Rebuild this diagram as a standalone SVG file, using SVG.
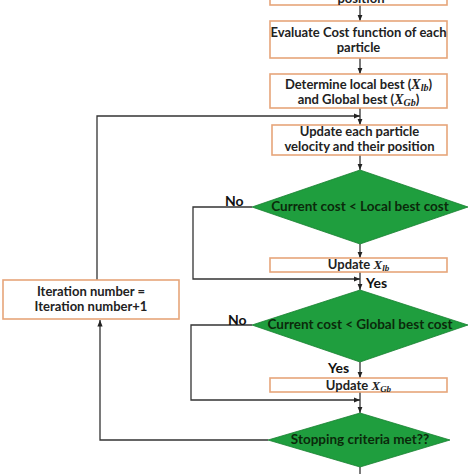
<svg xmlns="http://www.w3.org/2000/svg" width="474" height="474" viewBox="0 0 474 474">
<defs>
<marker id="ah" viewBox="0 0 10 10" refX="10" refY="5" markerWidth="5" markerHeight="5" orient="auto"><path d="M0,1 L10,5 L0,9 z" fill="#222"/></marker>
<style>
.box{fill:#fff;stroke:#e6a57a;stroke-width:1.6}
.dia{fill:#1f9e3e;stroke:#178030;stroke-width:0.8}
.t{font-family:Lato,"Open Sans",sans-serif;font-weight:bold;font-size:13px;fill:#222;text-anchor:middle}
.dt{font-family:Lato,"Open Sans",sans-serif;font-weight:bold;font-size:13.5px;fill:#0b2a0b;text-anchor:middle}
.lbl{font-family:Lato,"Open Sans",sans-serif;font-weight:bold;font-size:14px;fill:#111}
.m{font-family:"Liberation Serif",serif;font-style:italic;font-weight:bold}
.c{fill:none;stroke:#333;stroke-width:1.3}
</style>
</defs>
<g id="connectors">
<line class="c" x1="360" y1="5" x2="360" y2="21" marker-end="url(#ah)"/>
<line class="c" x1="360" y1="58" x2="360" y2="74" marker-end="url(#ah)"/>
<line class="c" x1="360" y1="108" x2="360" y2="125" marker-end="url(#ah)"/>
<line class="c" x1="360" y1="155" x2="360" y2="170" marker-end="url(#ah)"/>
<line class="c" x1="360" y1="244" x2="360" y2="258" marker-end="url(#ah)"/>
<line class="c" x1="360" y1="272" x2="360" y2="290" marker-end="url(#ah)"/>
<polyline class="c" points="252,207 193,207 193,279 360,279" marker-end="url(#ah)"/>
<line class="c" x1="360" y1="362" x2="360" y2="378" marker-end="url(#ah)"/>
<line class="c" x1="360" y1="392" x2="360" y2="413" marker-end="url(#ah)"/>
<polyline class="c" points="252,325 191,325 191,400 360,400" marker-end="url(#ah)"/>
<polyline class="c" points="268,440 100,440 100,320" marker-end="url(#ah)"/>
<polyline class="c" points="97,280 97,116 360,116" marker-end="url(#ah)"/>
<line class="c" x1="360" y1="467" x2="360" y2="474"/>
</g>
<g id="init">
<rect class="box" x="270" y="-20" width="177" height="25"/>
<text class="t" x="361" y="3" font-size="11">position</text>
</g>
<g id="evaluate">
<rect class="box" x="270" y="21" width="177" height="37"/>
<text class="t" x="358.5" y="37">Evaluate Cost function of each</text>
<text class="t" x="358.5" y="52">particle</text>
</g>
<g id="determine">
<rect class="box" x="270" y="74" width="177" height="34"/>
<text class="t" x="358.5" y="89">Determine local best (<tspan class="m" font-size="14">X</tspan><tspan class="m" font-size="10" dy="2">lb</tspan><tspan dy="-2">)</tspan></text>
<text class="t" x="358.5" y="104">and Global best (<tspan class="m" font-size="14">X</tspan><tspan class="m" font-size="10" dy="2">Gb</tspan><tspan dy="-2">)</tspan></text>
</g>
<g id="update-velocity">
<rect class="box" x="272" y="125" width="175" height="30"/>
<text class="t" x="359.5" y="136" font-size="12.5">Update each particle</text>
<text class="t" x="359.5" y="151" font-size="12.5">velocity and their position</text>
</g>
<g id="local-check">
<polygon class="dia" points="360,170 468,207 360,244 252,207"/>
<text class="dt" x="360" y="211">Current cost &lt; Local best cost</text>
<text class="lbl" x="225" y="206">No</text>
<text class="lbl" x="366" y="288">Yes</text>
</g>
<g id="update-lb">
<rect class="box" x="270" y="258" width="177" height="14"/>
<text class="t" x="358.5" y="269" font-size="12">Update <tspan class="m" font-size="13">X</tspan><tspan class="m" font-size="9" dy="2">lb</tspan></text>
</g>
<g id="global-check">
<polygon class="dia" points="360,290 468,325 360,362 252,325"/>
<text class="dt" x="360" y="329">Current cost &lt; Global best cost</text>
<text class="lbl" x="228" y="325">No</text>
<text class="lbl" x="328" y="373" font-size="13">Yes</text>
</g>
<g id="update-gb">
<rect class="box" x="270" y="378" width="177" height="14"/>
<text class="t" x="358.5" y="389.5" font-size="12">Update <tspan class="m" font-size="13">X</tspan><tspan class="m" font-size="9" dy="2">Gb</tspan></text>
</g>
<g id="stop-check">
<polygon class="dia" points="360,413 450,440 360,467 268,440"/>
<text class="dt" x="360" y="444">Stopping criteria met??</text>
</g>
<g id="iteration">
<rect class="box" x="3" y="280" width="176" height="39"/>
<text class="t" x="91" y="296">Iteration number =</text>
<text class="t" x="91" y="311">Iteration number+1</text>
</g>
</svg>
